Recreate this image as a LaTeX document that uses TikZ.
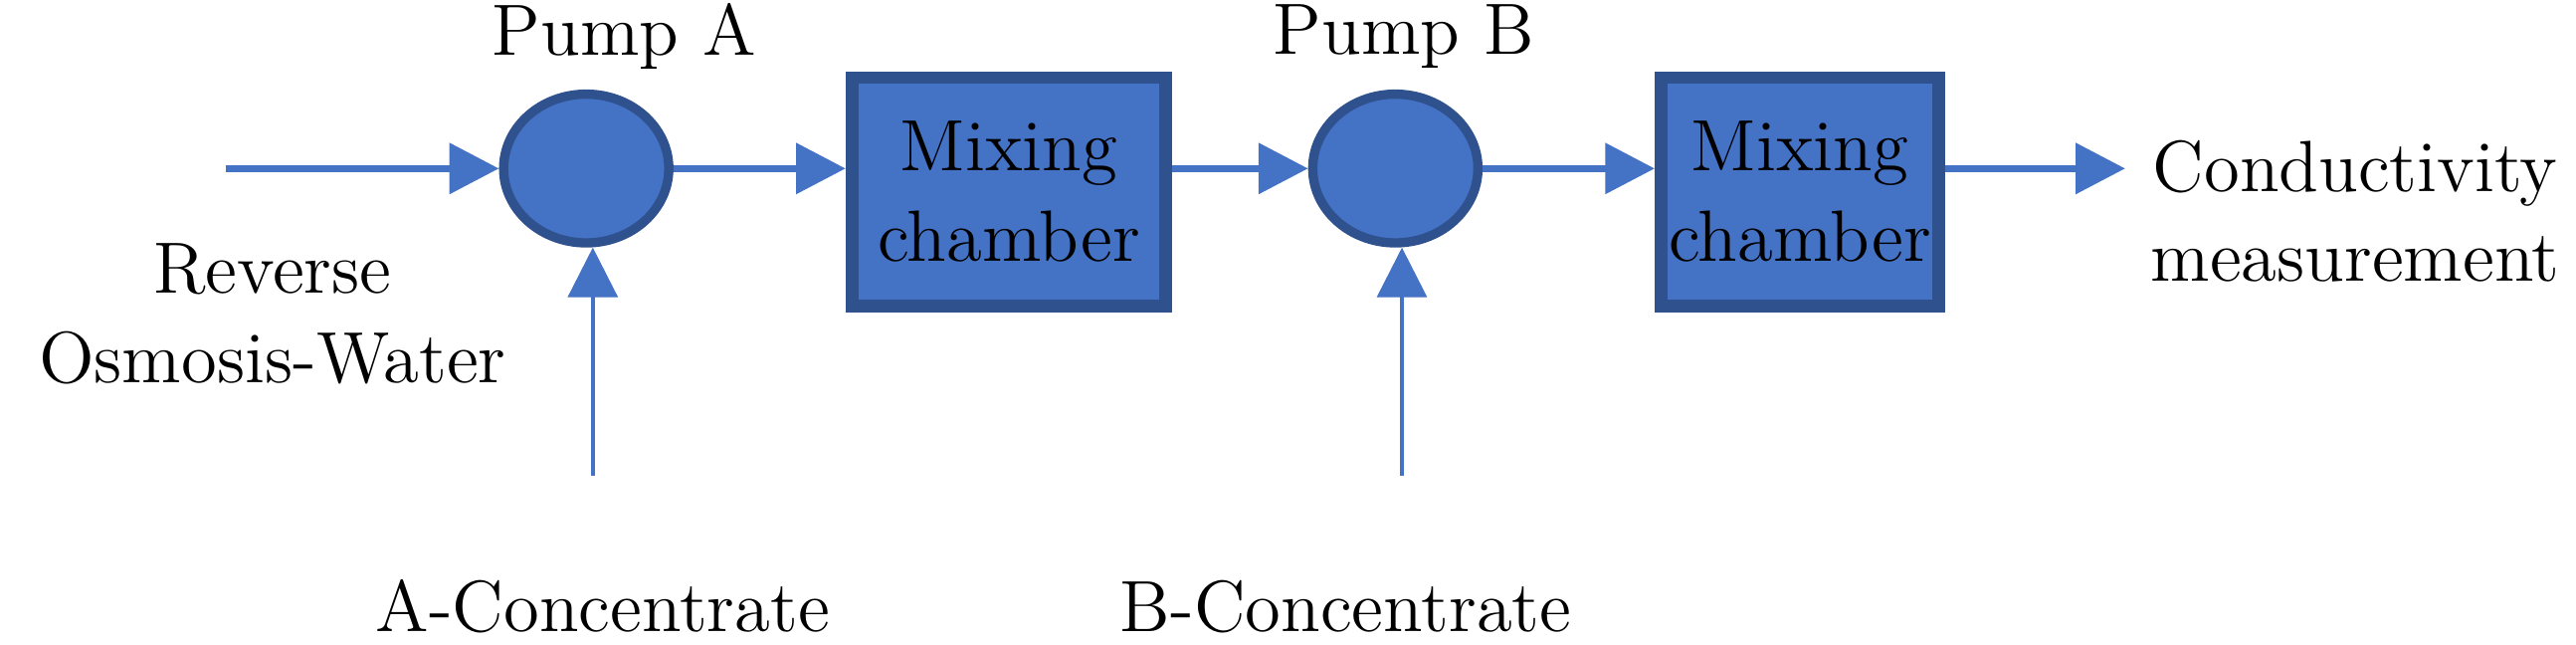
\documentclass[tikz,border=0pt]{standalone}
\usetikzlibrary{shapes.geometric,arrows.meta}
\definecolor{fillb}{HTML}{4472C4}
\definecolor{edgeb}{HTML}{2F528F}
\begin{document}
\begin{tikzpicture}[x=0.01cm,y=-0.01cm,
  pump/.style={ellipse,draw=edgeb,fill=fillb,line width=1.6pt,minimum width=1.0cm,minimum height=0.9cm,inner sep=0},
  box/.style={rectangle,draw=edgeb,fill=fillb,line width=2.2pt,align=center,inner sep=0},
  lbl/.style={font=\fontsize{12.5}{15.5}\selectfont,align=center},
  flow/.style={draw=fillb,line width=1.3pt,-{Triangle[length=0.3cm,width=0.3cm]}},
  feed/.style={draw=fillb,line width=0.6pt,-{Triangle[length=0.3cm,width=0.3cm]}}]
\useasboundingbox (0,0) rectangle (1560,390);
\node[pump] (pa) at (355,102) {};
\node[pump] (pb) at (845,102) {};
\node[box,minimum width=1.9cm,minimum height=1.38cm] (m1) at (611,116) {};
\node[box,minimum width=1.68cm,minimum height=1.38cm] (m2) at (1090,116) {};
\node[lbl] at (611,116) {Mixing\\chamber};
\node[lbl] at (1090,116) {Mixing\\chamber};
\node[lbl] (ta) at (378,22) {Pump A};
\node[lbl] (tb) at (850,22) {Pump B};
\node[lbl] (rw) at (165,190) {Reverse\\Osmosis-Water};
\node[lbl] (ac) at (365,367) {A-Concentrate};
\node[lbl] (bc) at (815,367) {B-Concentrate};
\node[lbl,anchor=west] (cm) at (1290,128) {Conductivity\\measurement};
\coordinate (in) at (137,102);
\coordinate (outA) at (359,288);
\coordinate (outB) at (849,288);
\coordinate (cmw) at (1287,102);
\draw[flow] (in) -- (pa.west);
\draw[flow] (pa.east) -- (m1.west |- pa.east);
\draw[flow] (m1.east |- pa.east) -- (pb.west);
\draw[flow] (pb.east) -- (m2.west |- pb.east);
\draw[flow] (m2.east |- pb.east) -- (cmw);
\draw[feed] (outA) -- (outA |- pa.south);
\draw[feed] (outB) -- (outB |- pb.south);
\end{tikzpicture}
\end{document}
